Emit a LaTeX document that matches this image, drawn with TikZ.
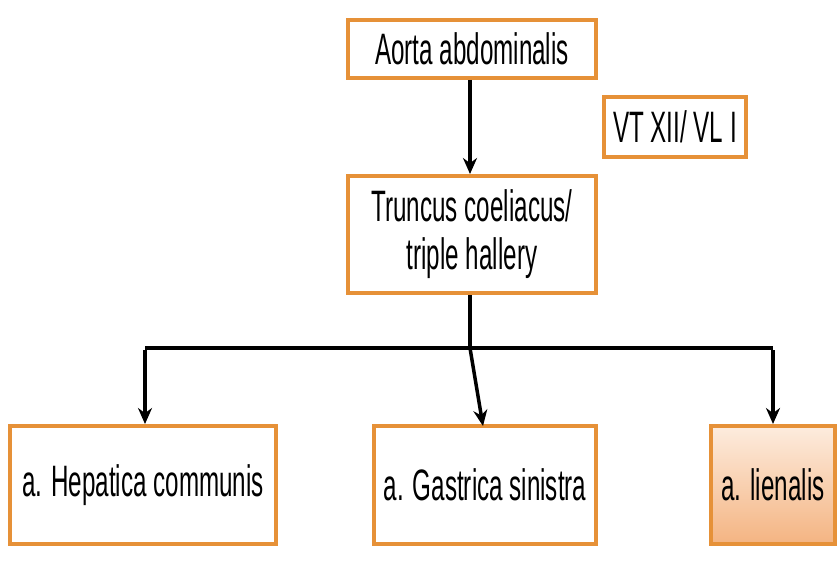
\documentclass[tikz,border=0pt]{standalone}
\usepackage{fontspec}
\setmainfont[FakeStretch=0.55]{Liberation Sans}
\usetikzlibrary{arrows.meta}
\definecolor{bord}{RGB}{230,145,56}
\definecolor{peachA}{RGB}{253,236,222}
\definecolor{peachB}{RGB}{244,180,130}
\tikzset{
 box/.style={draw=bord,line width=4pt,fill=white,inner sep=0pt,font=\fontsize{44}{48}\selectfont,align=center},
 conn/.style={line width=3.5pt,-{Stealth[length=16pt,width=14pt]}},
 bar/.style={line width=4pt}
}
\begin{document}
\begin{tikzpicture}[x=1pt,y=-1pt]
\useasboundingbox (0,0) rectangle (840,588);
\node[box,minimum width=248pt,minimum height=58pt] (aorta) at (472,49) {Aorta abdominalis};
\node[box,minimum width=142pt,minimum height=60pt] (vt) at (675,127) {VT XII/ VL I};
\node[box,minimum width=248pt,minimum height=117pt] (tr) at (472,234.5) {Truncus coeliacus/\\triple hallery};
\node[box,minimum width=266pt,minimum height=118pt] (hep) at (143,485) {a. Hepatica communis};
\node[box,minimum width=222pt,minimum height=118pt] (gas) at (485,485) {a. Gastrica sinistra};
\node[box,minimum width=124pt,minimum height=118pt,top color=peachA,bottom color=peachB] (lie) at (773,485) {a. lienalis};
\coordinate (j) at (470,348);
\coordinate (l) at (145,348);
\coordinate (r) at (773,348);
\draw[conn] (aorta.south -| j) -- (tr.north -| j);
\draw[bar] (tr.south -| j) -- (j);
\draw[bar] (l) -- (r);
\draw[conn] ([yshift=-2pt]l) -- (hep.north -| l);
\draw[conn] (j) -- (483,426);
\draw[conn] ([yshift=-2pt]r) -- (lie.north -| r);
\end{tikzpicture}
\end{document}
